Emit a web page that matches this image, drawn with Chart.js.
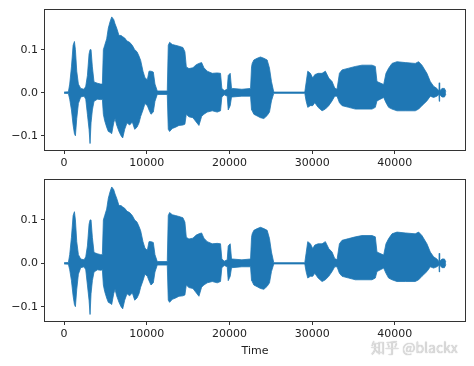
<!DOCTYPE html>
<html>
<head>
<meta charset="utf-8">
<script src="https://cdn.jsdelivr.net/npm/chart.js@4.4.0/dist/chart.umd.min.js"></script>
<style>
  body { margin: 0; background: #fff; width: 474px; height: 366px; overflow: hidden; position: relative; }
  .panel { position: absolute; left: 0; width: 474px; }
  #marca { position: absolute; left: 371px; top: 337px; font: 14px "Noto Sans CJK SC", "DejaVu Sans", sans-serif;
           color: #dedede; text-shadow: 0 0 1px #a0a0a0; white-space: nowrap; }
</style>
</head>
<body>
<div class="panel" style="top:0;height:170px"><canvas id="graficoTopo"></canvas></div>
<div class="panel" style="top:170px;height:196px"><canvas id="graficoBaixo"></canvas></div>
<div id="marca">知乎 @blackx</div>
<script>
// envelope of the waveform (sample index, max, min)
const tempo = [
  0, 520, 680, 890, 1090, 1250, 1370, 1530, 1730, 2010,
  2420, 2620, 2820, 3020, 3140, 3260, 3420, 3620, 4030, 4430,
  4630, 4750, 4910, 5150, 5350, 5560, 5760, 6000, 6160, 6360,
  6640, 6890, 7090, 7330, 7610, 7930, 8250, 8540, 8820, 9060,
  9260, 9540, 9780, 10070, 10270, 10510, 10790, 10990, 11270, 12480,
  12600, 12760, 13090, 13490, 13890, 14370, 14610, 14780, 15100, 15580,
  15980, 16310, 16630, 16910, 17310, 17920, 18520, 18920, 19080, 19370,
  19730, 19850, 20090, 20250, 20330, 21500, 22550, 22670, 22750, 22950,
  23350, 23750, 24160, 24560, 24840, 25080, 25360, 29110, 29270, 29470,
  29790, 30070, 30320, 30720, 31200, 31600, 32010, 32410, 32730, 33010,
  33300, 33620, 34420, 35230, 36030, 37240, 37640, 37840, 38650, 38930,
  39250, 39660, 40260, 41270, 42470, 42880, 43280, 43880, 44290, 44690,
  45090, 45330, 45373, 45420, 45700, 46000, 46178
];
const maximo = [
  0.0015, 0.002, 0.02, 0.06, 0.11, 0.119, 0.1, 0.05, 0.02, 0.01,
  0.008, 0.015, 0.04, 0.09, 0.1, 0.1, 0.06, 0.025, 0.022, 0.02,
  0.02, 0.1, 0.11, 0.125, 0.15, 0.165, 0.176, 0.17, 0.16, 0.15,
  0.133, 0.133, 0.13, 0.127, 0.12, 0.117, 0.11, 0.1, 0.095, 0.085,
  0.075, 0.05, 0.035, 0.03, 0.05, 0.05, 0.048, 0.02, 0.004, 0.004,
  0.11, 0.117, 0.112, 0.11, 0.108, 0.105, 0.095, 0.06, 0.056, 0.058,
  0.065, 0.068, 0.07, 0.058, 0.05, 0.045, 0.046, 0.045, 0.01, 0.005,
  0.008, 0.04, 0.045, 0.01, 0.01, 0.008, 0.01, 0.06, 0.068, 0.076,
  0.08, 0.083, 0.08, 0.076, 0.057, 0.026, 0.0015, 0.0015, 0.023, 0.05,
  0.045, 0.034, 0.042, 0.045, 0.045, 0.05, 0.034, 0.026, 0.011, 0.008,
  0.045, 0.053, 0.057, 0.061, 0.064, 0.064, 0.061, 0.026, 0.019, 0.045,
  0.057, 0.068, 0.072, 0.07, 0.068, 0.072, 0.064, 0.045, 0.026, 0.015,
  0.01, 0.004, 0.023, 0.004, 0.01, 0.01, 0.003
];
const minimo = [
  -0.0015, -0.002, -0.015, -0.04, -0.075, -0.095, -0.1, -0.06, -0.025, -0.01,
  -0.008, -0.015, -0.05, -0.085, -0.118, -0.07, -0.04, -0.02, -0.015, -0.016,
  -0.015, -0.05, -0.065, -0.08, -0.09, -0.092, -0.095, -0.07, -0.06, -0.075,
  -0.09, -0.1, -0.105, -0.085, -0.07, -0.075, -0.068, -0.085, -0.08, -0.07,
  -0.055, -0.04, -0.025, -0.03, -0.04, -0.05, -0.045, -0.02, -0.004, -0.004,
  -0.085, -0.09, -0.083, -0.08, -0.076, -0.075, -0.073, -0.05, -0.056, -0.058,
  -0.068, -0.076, -0.055, -0.05, -0.045, -0.042, -0.045, -0.042, -0.01, -0.005,
  -0.008, -0.04, -0.03, -0.01, -0.01, -0.008, -0.008, -0.04, -0.042, -0.05,
  -0.054, -0.058, -0.06, -0.053, -0.045, -0.019, -0.0015, -0.0015, -0.019, -0.034,
  -0.03, -0.03, -0.023, -0.034, -0.042, -0.038, -0.03, -0.019, -0.008, -0.008,
  -0.023, -0.03, -0.034, -0.038, -0.038, -0.038, -0.034, -0.019, -0.011, -0.023,
  -0.034, -0.038, -0.042, -0.042, -0.042, -0.038, -0.03, -0.019, -0.008, -0.011,
  -0.008, -0.004, -0.02, -0.004, -0.01, -0.01, -0.003
];
const ticksX = [0, 10000, 20000, 30000, 40000];
const ticksY = [-0.1, 0.0, 0.1];

const azul = "#1f77b4";
const fonte = { family: "DejaVu Sans", size: 11 };

// moldura completa do eixo (estilo matplotlib)
const moldura = {
  id: "moldura",
  afterDraw(chart) {
    const a = chart.chartArea;
    const c = chart.ctx;
    c.save();
    c.strokeStyle = "#333";
    c.lineWidth = 1;
    c.strokeRect(Math.round(a.left) - 0.5, Math.round(a.top) - 0.5,
                 Math.round(a.right - a.left) + 1, Math.round(a.bottom - a.top) + 1);
    c.restore();
  },
};

function criarPainel(canvasId, comTitulo) {
  const ctx = document.getElementById(canvasId).getContext("2d");
  return new Chart(ctx, {
    type: "line",
    data: {
      datasets: [
        {
          data: tempo.map((t, i) => ({ x: t, y: maximo[i] })),
          borderColor: azul,
          borderWidth: 0.8,
          pointRadius: 0,
          fill: false,
        },
        {
          data: tempo.map((t, i) => ({ x: t, y: minimo[i] })),
          borderColor: azul,
          borderWidth: 0.8,
          backgroundColor: azul,
          pointRadius: 0,
          fill: "-1",
        },
      ],
    },
    options: {
      responsive: true,
      maintainAspectRatio: false,
      animation: false,
      layout: { padding: { top: comTitulo ? 8 : 7, right: 9, left: 0, bottom: 0 } },
      plugins: { legend: { display: false }, tooltip: { enabled: false } },
      scales: {
        x: {
          type: "linear",
          min: -2309,
          max: 48487,
          afterBuildTicks: (s) => { s.ticks = ticksX.map((v) => ({ value: v })); },
          afterFit: (s) => { s.height = comTitulo ? 45 : 20; },
          ticks: { color: "#222", font: fonte, padding: 3, maxRotation: 0,
                   callback: (v) => String(v) },
          grid: { drawOnChartArea: false, drawTicks: true, tickLength: 4, color: "#333" },
          border: { display: false },
          title: {
            display: comTitulo,
            text: "Time",
            color: "#222",
            font: fonte,
            padding: { top: 0, bottom: 8 },
          },
        },
        y: {
          type: "linear",
          min: -0.133,
          max: 0.193,
          afterBuildTicks: (s) => { s.ticks = ticksY.map((v) => ({ value: v })); },
          afterFit: (s) => { s.width = 45; },
          ticks: {
            color: "#222",
            font: fonte,
            padding: 3,
            callback: (v) => (v < 0 ? "\u2212" : "") + Math.abs(v).toFixed(1),
          },
          grid: { drawOnChartArea: false, drawTicks: true, tickLength: 4, color: "#333" },
          border: { display: false },
        },
      },
    },
    plugins: [moldura],
  });
}

criarPainel("graficoTopo", false);
criarPainel("graficoBaixo", true);
</script>
</body>
</html>
